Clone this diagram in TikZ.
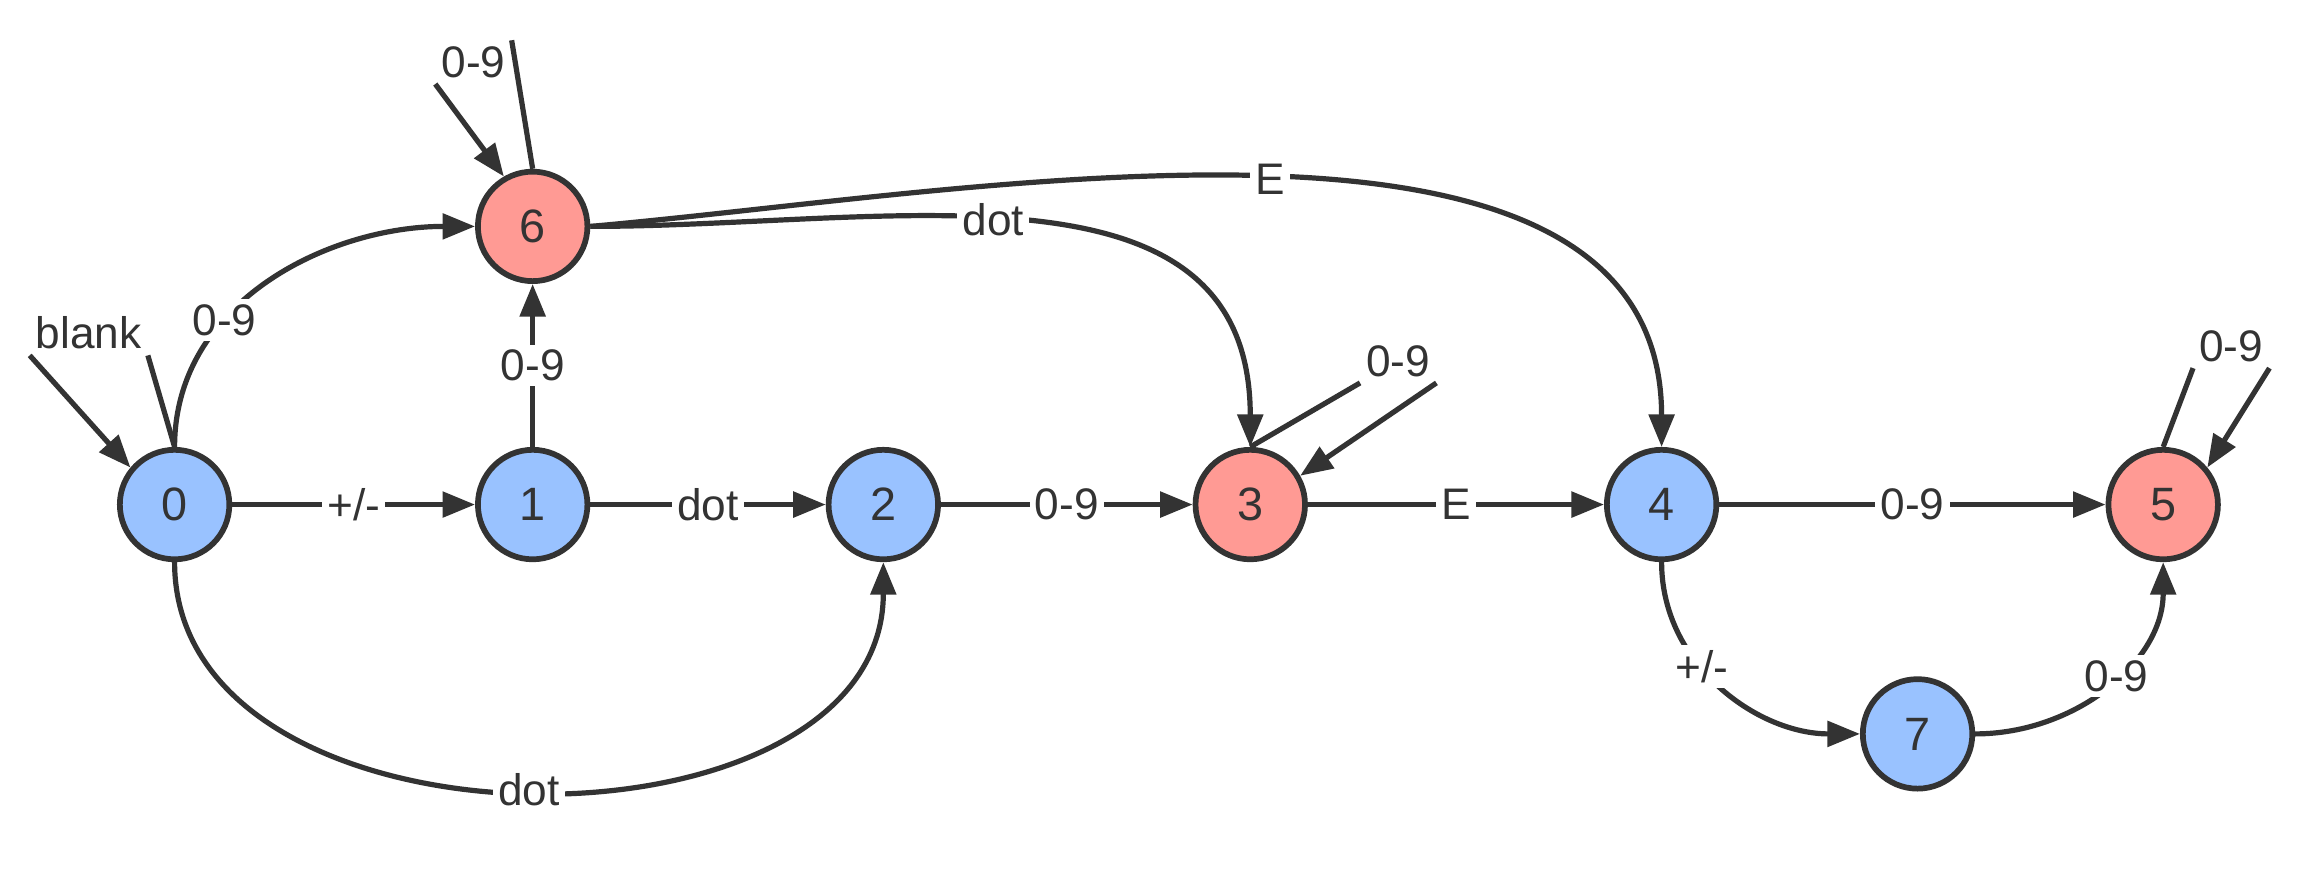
\documentclass[tikz,border=0pt]{standalone}
\usepackage{fontspec}
\setmainfont{Liberation Sans}
\usetikzlibrary{arrows.meta}
\definecolor{bl}{HTML}{99C2FF}
\definecolor{rd}{HTML}{FF9A94}
\definecolor{ln}{HTML}{333333}
\begin{document}
\begin{tikzpicture}[
  st/.style={circle,draw=ln,line width=1.1pt,minimum size=0.74cm,inner sep=0pt,font=\fontsize{9}{10}\selectfont,text=ln},
  b/.style={st,fill=bl}, r/.style={st,fill=rd},
  e/.style={draw=ln,line width=1pt,-{Triangle[length=0.22cm,width=0.17cm]}},
  p/.style={draw=ln,line width=1pt},
  lb/.style={fill=white,inner sep=1pt,font=\fontsize{8.5}{10}\selectfont,text=ln}]
\useasboundingbox[fill=white] (0,0) rectangle (15.68,5.99);
\node[b] (n0) at (1.18,2.58) {0};
\node[b] (n1) at (3.60,2.58) {1};
\node[b] (n2) at (5.97,2.58) {2};
\node[r] (n3) at (8.45,2.58) {3};
\node[b] (n4) at (11.23,2.58) {4};
\node[r] (n5) at (14.62,2.58) {5};
\node[r] (n6) at (3.60,4.46) {6};
\node[b] (n7) at (12.96,1.03) {7};
\node[lb,fill=none] (bk) at (0.60,3.74) {blank};
\node[lb,fill=none] (l6) at (3.20,5.57) {0-9};
\node[lb,fill=none] (l3) at (9.45,3.55) {0-9};
\node[lb,fill=none] (l5) at (15.08,3.65) {0-9};
% self loops
\draw[p] (n0.north) -- (bk.south east);
\draw[e] (bk.south west) -- (n0.140);
\draw[p] (n6.north) -- (l6.north east);
\draw[e] (l6.south west) -- (n6.120);
\draw[p] (n3.north) -- (l3.south west);
\draw[e] (l3.south east) -- (n3.30);
\draw[p] (n5.north) -- (l5.south west);
\draw[e] (l5.south east) -- (n5.40);
% straight
\draw[e] (n0) -- node[lb]{+/-} (n1);
\draw[e] (n1) -- node[lb]{dot} (n2);
\draw[e] (n2) -- node[lb]{0-9} (n3);
\draw[e] (n3) -- node[lb]{E} (n4);
\draw[e] (n4) -- node[lb]{0-9} (n5);
\draw[e] (n1) -- node[lb]{0-9} (n6);
% curves
\draw[e] (n0.north) to[out=90,in=180] node[lb,pos=0.35]{0-9} (n6.west);
\draw[e] (n0.south) to[out=-90,in=-90,looseness=1.1] node[lb]{dot} (n2.south);
\draw[e] (n6.east) to[out=0,in=90,looseness=1.1] node[lb,pos=0.45]{dot} (n3.north);
\draw[e] (n6.east) to[out=5,in=90,looseness=0.9] node[lb,pos=0.5]{E} (n4.north);
\draw[e] (n4.south) to[out=-90,in=180] node[lb,pos=0.4]{+/-} (n7.west);
\draw[e] (n7.east) to[out=0,in=-90] node[lb,pos=0.55]{0-9} (n5.south);
\end{tikzpicture}
\end{document}
